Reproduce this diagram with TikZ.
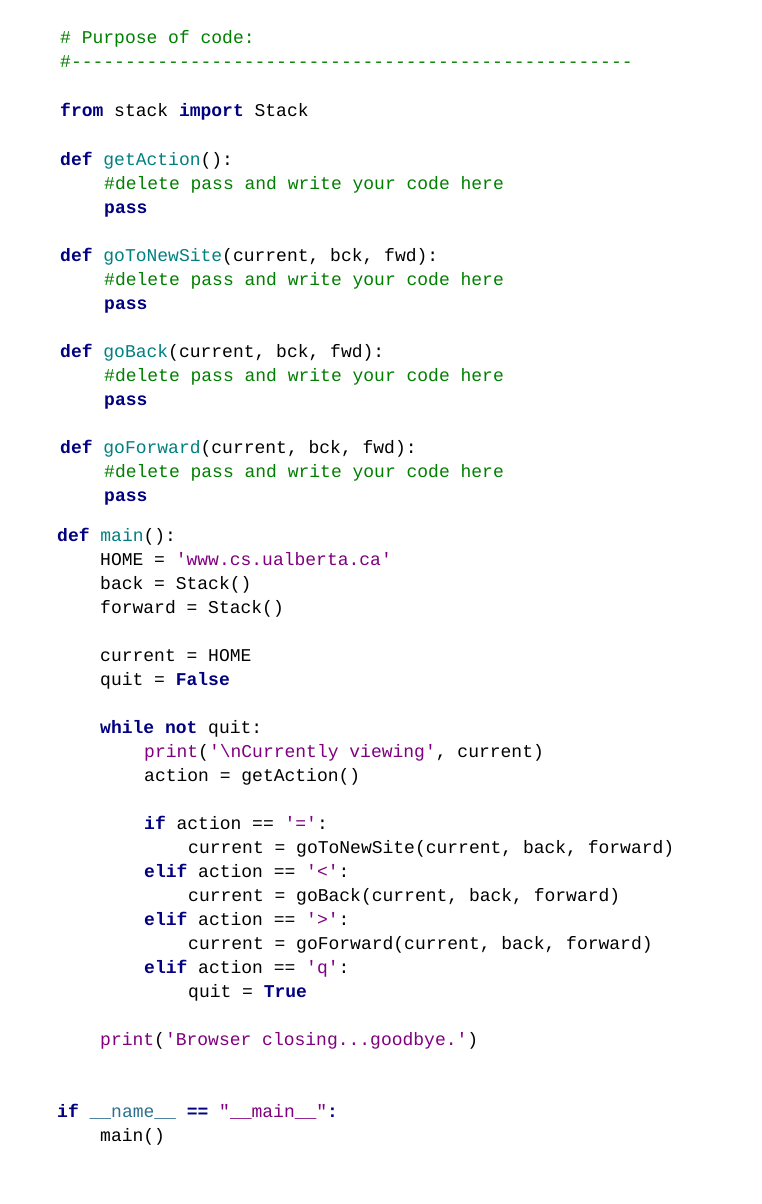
\documentclass[tikz,border=0pt]{standalone}
\usepackage{fontspec}
\setmonofont{Liberation Mono}
\definecolor{kw}{HTML}{000080}
\definecolor{fn}{HTML}{008080}
\definecolor{cm}{HTML}{008000}
\definecolor{st}{HTML}{800080}
\definecolor{dn}{HTML}{2E7090}
\newcommand{\K}[1]{\textcolor{kw}{\bfseries #1}}
\newcommand{\F}[1]{\textcolor{fn}{#1}}
\newcommand{\C}[1]{\textcolor{cm}{#1}}
\newcommand{\Sg}[1]{\textcolor{st}{#1}}
\begin{document}
\begin{tikzpicture}[x=1pt,y=-1pt,
  code/.style={anchor=base west,inner sep=0pt,font=\ttfamily\fontsize{18}{18}\selectfont,text=black}]
\useasboundingbox[fill=white] (0,0) rectangle (762,1204);
\def\A{60}\def\B{104}\def\M{57}\def\N{100}\def\P{144}\def\Q{188}
\node[code] (l1) at (\A,44) {\C{\# Purpose of code:}};
\node[code] (l2) at (\A,68) {\C{\#----------------------------------------------------}};
\node[code] (l3) at (\A,117) {\K{from} stack \K{import} Stack};
\node[code] (l4) at (\A,165) {\K{def} \F{getAction}():};
\node[code] (l5) at (\B,189) {\C{\#delete pass and write your code here}};
\node[code] (l6) at (\B,213) {\K{pass}};
\node[code] (l7) at (\A,261) {\K{def} \F{goToNewSite}(current, bck, fwd):};
\node[code] (l8) at (\B,285) {\C{\#delete pass and write your code here}};
\node[code] (l9) at (\B,309) {\K{pass}};
\node[code] (l10) at (\A,357) {\K{def} \F{goBack}(current, bck, fwd):};
\node[code] (l11) at (\B,381) {\C{\#delete pass and write your code here}};
\node[code] (l12) at (\B,405) {\K{pass}};
\node[code] (l13) at (\A,453) {\K{def} \F{goForward}(current, bck, fwd):};
\node[code] (l14) at (\B,477) {\C{\#delete pass and write your code here}};
\node[code] (l15) at (\B,501) {\K{pass}};
\node[code] (l16) at (\M,541) {\K{def} \F{main}():};
\node[code] (l17) at (\N,565) {HOME = \Sg{'www.cs.ualberta.ca'}};
\node[code] (l18) at (\N,589) {back = Stack()};
\node[code] (l19) at (\N,613) {forward = Stack()};
\node[code] (l20) at (\N,661) {current = HOME};
\node[code] (l21) at (\N,685) {quit = \K{False}};
\node[code] (l22) at (\N,733) {\K{while} \K{not} quit:};
\node[code] (l23) at (\P,757) {\Sg{print}(\Sg{'\textbackslash nCurrently viewing'}, current)};
\node[code] (l24) at (\P,781) {action = getAction()};
\node[code] (l25) at (\P,829) {\K{if} action == \Sg{'='}:};
\node[code] (l26) at (\Q,853) {current = goToNewSite(current, back, forward)};
\node[code] (l27) at (\P,877) {\K{elif} action == \Sg{'<'}:};
\node[code] (l28) at (\Q,901) {current = goBack(current, back, forward)};
\node[code] (l29) at (\P,925) {\K{elif} action == \Sg{'>'}:};
\node[code] (l30) at (\Q,949) {current = goForward(current, back, forward)};
\node[code] (l31) at (\P,973) {\K{elif} action == \Sg{'q'}:};
\node[code] (l32) at (\Q,997) {quit = \K{True}};
\node[code] (l33) at (\N,1045) {\Sg{print}(\Sg{'Browser closing...goodbye.'})};
\node[code] (l34) at (\M,1117) {\K{if} \textcolor{dn}{\_\_name\_\_} \K{==} \Sg{"\_\_main\_\_"}\K{:}};
\node[code] (l35) at (\N,1141) {main()};
\end{tikzpicture}
\end{document}
